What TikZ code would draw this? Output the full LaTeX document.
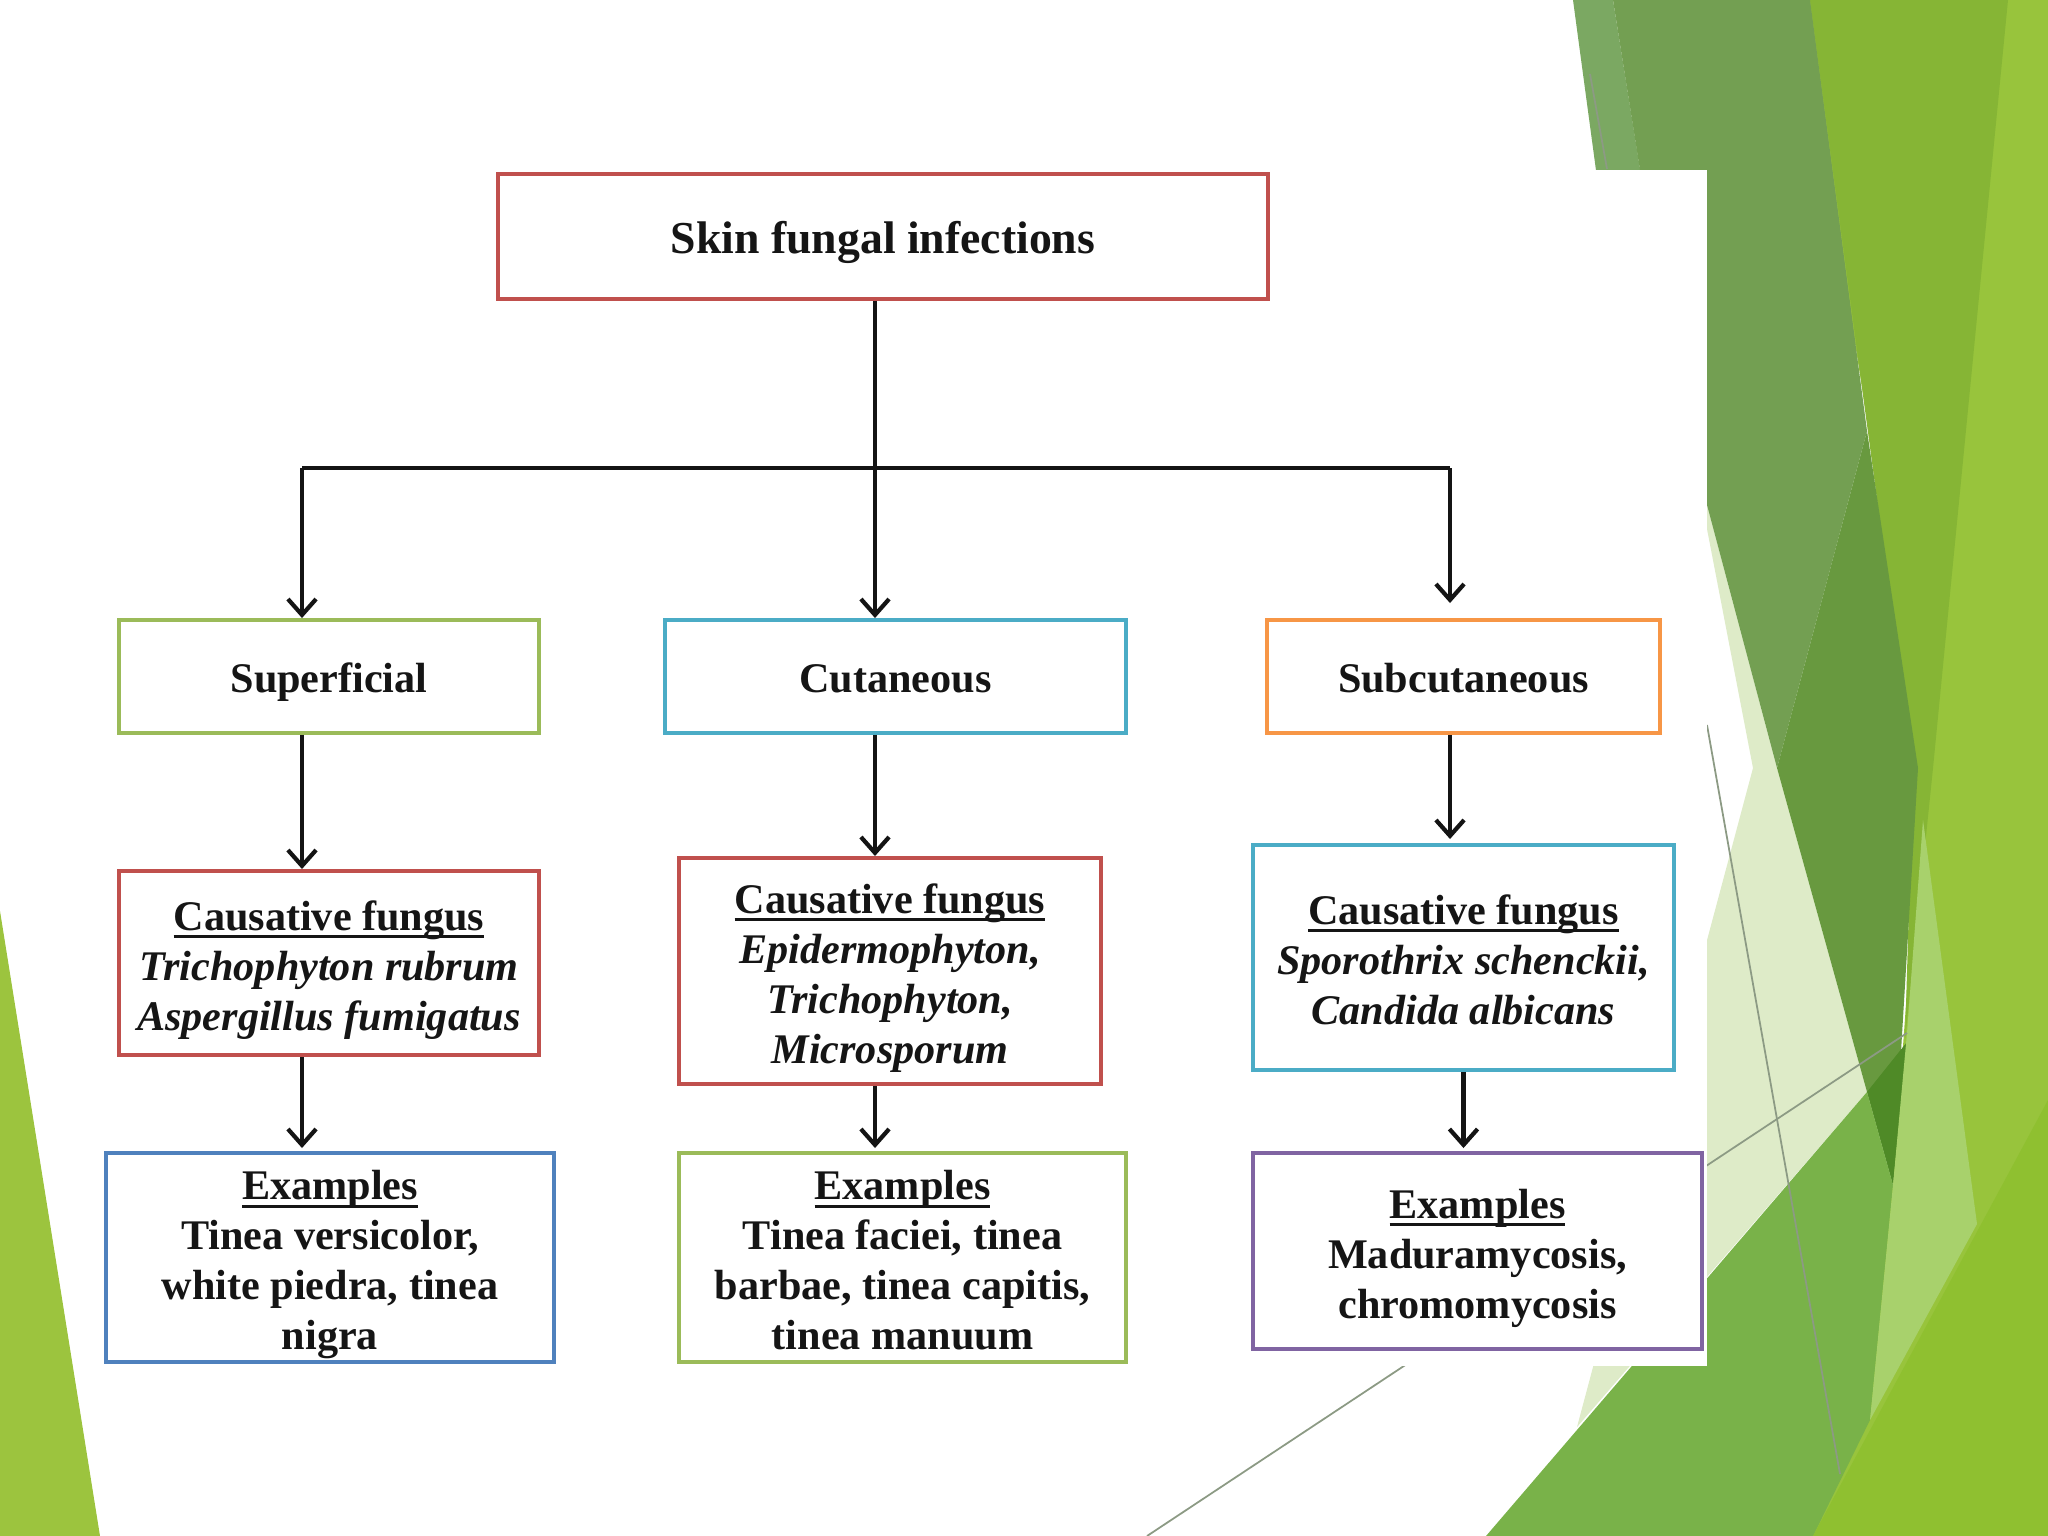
\documentclass[tikz,border=0pt]{standalone}
\usepackage{fontspec}
\setmainfont{Liberation Serif}
\usetikzlibrary{arrows.meta}
\definecolor{cred}{HTML}{C0504D}
\definecolor{cgreen}{HTML}{9BBB59}
\definecolor{cteal}{HTML}{4BACC6}
\definecolor{corange}{HTML}{F79646}
\definecolor{cblue}{HTML}{4F81BD}
\definecolor{cpurple}{HTML}{8064A2}
\definecolor{txt}{HTML}{151515}
\definecolor{dsage}{HTML}{739F52}
\definecolor{dsagelt}{HTML}{7BA862}
\definecolor{dsagedk}{HTML}{68993F}
\definecolor{dvdark}{HTML}{4F8A27}
\definecolor{dbright}{HTML}{86B535}
\definecolor{dlime}{HTML}{98C43C}
\definecolor{dmid}{HTML}{79B249}
\definecolor{dlight}{HTML}{A8D16C}
\definecolor{dpale}{HTML}{DEEBC8}
\definecolor{dlow}{HTML}{8FC030}
\definecolor{dleft}{HTML}{9CC43E}
\definecolor{dline}{HTML}{8C9A84}
\newsavebox\ulbox
\newcommand{\myul}[1]{\sbox\ulbox{#1}\rlap{\rule[-2.2pt]{\wd\ulbox}{0.85pt}}\usebox\ulbox}
\newcommand{\bodyfont}{\fontsize{12}{14.2}\selectfont\bfseries}
\newcommand{\titlefont}{\fontsize{13}{15}\selectfont\bfseries}
\tikzset{
  box/.style={draw, line width=1.1pt, fill=white, align=center, inner sep=0pt, font=\bodyfont, text=txt},
  oneline/.style={text height=0.31cm, text depth=0cm},
  threeline/.style={text height=1.34cm, text depth=0cm},
  fourline/.style={text height=1.84cm, text depth=0cm},
  conn/.style={line width=1.2pt, draw=black!92},
  arr/.style={conn, -{Straight Barb[length=4.5pt,width=8pt]}},
  thin/.style={draw=dline, line width=0.5pt}
}
\begin{document}
\begin{tikzpicture}[x=0.01cm,y=-0.01cm]
\useasboundingbox (0,0) rectangle (2048,1536);
\fill[white] (0,0) rectangle (2048,1536);
% right decoration
\fill[dlime] (1800,0) -- (2048,0) -- (2048,1536) -- (1700,1536) -- (1893,1185) -- (1923,768) -- cycle;
\fill[dbright] (1810,0) -- (2008,0) -- (1933,768) -- (1905,1040) -- (1913,768) -- cycle;
\fill[dsagelt] (1573,0) -- (1613,0) -- (1645,200) -- (1600,200) -- cycle;
\fill[dpale] (1707,529) -- (1753,768) -- (1577,1427) -- (1867,1092) -- (1777,768) -- (1707,505) -- cycle;
\fill[dsage] (1613,0) -- (1810,0) -- (1867,431) -- (1777,768) -- (1707,505) -- (1700,170) -- (1640,170) -- cycle;
\fill[dsagedk] (1867,431) -- (1918,768) -- (1893,1185) -- (1867,1092) -- (1777,768) -- cycle;
\fill[dvdark] (1867,1092) -- (1907,1042) -- (1893,1185) -- cycle;
\fill[dmid] (1486,1536) -- (1867,1092) -- (1893,1185) -- (1870,1420) -- (1813,1536) -- cycle;
\fill[dlight] (1923,820) -- (1977,1224) -- (1870,1420) -- (1893,1185) -- (1907,1033) -- cycle;
\fill[dlow] (1813,1536) -- (2048,1100) -- (2048,1536) -- cycle;
\draw[thin] (1590,74) -- (1607,169);
\draw[thin] (1707,725) -- (1840,1474);
\draw[thin] (1907,1033) -- (1147,1536);
% pasted panel
\fill[white] (80,170) rectangle (1707,1366);
% left decoration
\fill[dleft] (0,911) -- (100,1536) -- (0,1536) -- cycle;

% diagram
\node[box, draw=cred, minimum width=7.70cm, minimum height=1.25cm, font=\titlefont, text height=0.33cm, text depth=0cm] (top) at (883,236.5) {Skin fungal infections};
\node[box, oneline, draw=cgreen, minimum width=4.20cm, minimum height=1.13cm] (sup) at (329,676.5) {Superficial};
\node[box, oneline, draw=cteal, minimum width=4.61cm, minimum height=1.13cm] (cut) at (895.5,676.5) {Cutaneous};
\node[box, oneline, draw=corange, minimum width=3.93cm, minimum height=1.13cm] (sub) at (1463.5,676.5) {Subcutaneous};
\node[box, threeline, draw=cred, minimum width=4.20cm, minimum height=1.84cm] (cl) at (329,963)
  {\myul{Causative fungus}\\ {\itshape Trichophyton rubrum}\\ {\itshape Aspergillus fumigatus}};
\node[box, fourline, draw=cred, minimum width=4.22cm, minimum height=2.26cm] (cm) at (890,971)
  {\myul{Causative fungus}\\ {\itshape Epidermophyton,}\\ {\itshape Trichophyton,}\\ {\itshape Microsporum}};
\node[box, threeline, draw=cteal, minimum width=4.21cm, minimum height=2.25cm] (cr) at (1463.5,957.5)
  {\myul{Causative fungus}\\ {\itshape Sporothrix schenckii,}\\ {\itshape Candida albicans}};
\node[box, fourline, draw=cblue, minimum width=4.48cm, minimum height=2.09cm] (el) at (330,1257.5)
  {\myul{Examples}\\ Tinea versicolor,\\ white piedra, tinea\\ nigra};
\node[box, fourline, draw=cgreen, minimum width=4.47cm, minimum height=2.09cm] (em) at (902.5,1257.5)
  {\myul{Examples}\\ Tinea faciei, tinea\\ barbae, tinea capitis,\\ tinea manuum};
\node[box, threeline, draw=cpurple, minimum width=4.49cm, minimum height=1.96cm] (er) at (1477.5,1251)
  {\myul{Examples}\\ Maduramycosis,\\ chromomycosis};

% connectors
\coordinate (j) at (875,468);
\coordinate (hl) at (302,468);
\coordinate (hr) at (1450,468);
\draw[conn] (top.south -| j) -- (j);
\draw[conn] (hl) -- (hr);
\draw[arr] (hl) -- (hl |- sup.north);
\draw[arr] (j) -- (j |- cut.north);
\draw[arr, shorten >=0.15cm] (hr) -- (hr |- sub.north);
\draw[arr] (sup.south -| hl) -- (cl.north -| hl);
\draw[arr] (cut.south -| j) -- (cm.north -| j);
\draw[arr, shorten >=0.04cm] (sub.south -| hr) -- (cr.north -| hr);
\draw[arr, shorten >=0.03cm] (cl.south -| hl) -- (el.north -| hl);
\draw[arr, shorten >=0.03cm] (cm.south -| j) -- (em.north -| j);
\draw[arr, shorten >=0.03cm] (cr.south) -- (cr.south |- er.north);
\end{tikzpicture}
\end{document}
